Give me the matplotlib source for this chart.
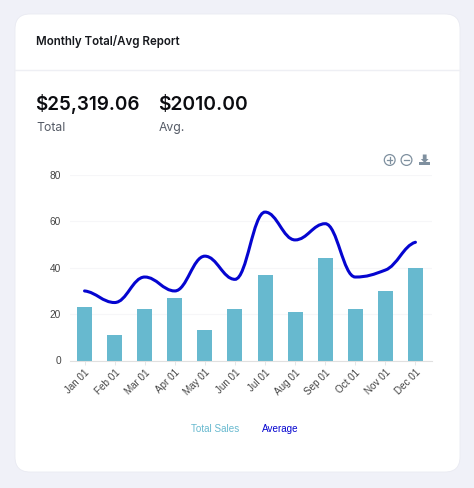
import numpy as np
import matplotlib
matplotlib.use("Agg")
import matplotlib.pyplot as plt
from matplotlib.patches import FancyBboxPatch, Circle, PathPatch, Polygon, Rectangle
from matplotlib.path import Path

months = ["Jan 01", "Feb 01", "Mar 01", "Apr 01", "May 01", "Jun 01",
          "Jul 01", "Aug 01", "Sep 01", "Oct 01", "Nov 01", "Dec 01"]
total_sales = [23, 11, 22, 27, 13, 22, 37, 21, 44, 22, 30, 40]
average = [30, 25, 36, 30, 45, 35, 64, 52, 59, 36, 39, 51]
y_ticks = [0, 20, 40, 60, 80]

W, H = 474, 488
fig = plt.figure(figsize=(W / 100, H / 100), dpi=100, facecolor="#f0f1f8")

# page layer in pixel coords, y going down
bg = fig.add_axes([0, 0, 1, 1])
bg.set_xlim(0, W)
bg.set_ylim(H, 0)
bg.axis("off")

card = FancyBboxPatch((15, 14), 445, 458, boxstyle="round,pad=0,rounding_size=15",
                      fc="white", ec="#e9eaf2", lw=0.6)
bg.add_patch(card)
bg.plot([15, 460], [69.5, 69.5], color="#eeeff4", lw=1)

bg.text(36, 45, "Monthly Total/Avg Report", fontsize=8.3, family="Inter",
        weight="semibold", color="#16181d", va="baseline")
bg.text(35.5, 110.5, "$25,319.06", fontsize=13.6, family="Inter", weight="semibold",
        color="#0b0c10", va="baseline")
bg.text(158.5, 110.5, "$2010.00", fontsize=13.9, family="Inter", weight="semibold",
        color="#0b0c10", va="baseline")
bg.text(36, 131, "Total", fontsize=8.8, family="Inter", color="#555b66", va="baseline")
bg.text(159, 131, "Avg.", fontsize=8.8, family="Inter", color="#555b66", va="baseline")

# toolbar icons
icon = "#7f909f"
for cx in (389.7, 406.5):
    bg.add_patch(Circle((cx, 160), 5.4, fc="none", ec=icon, lw=0.9))
    bg.plot([cx - 2.8, cx + 2.8], [160, 160], color=icon, lw=0.9)
bg.plot([389.7, 389.7], [157.2, 162.8], color=icon, lw=0.9)
bg.add_patch(Polygon([(420.8, 159), (422.8, 159), (422.8, 154.5), (426.6, 154.5),
                      (426.6, 159), (428.6, 159), (424.7, 163)], fc=icon, ec="none"))
bg.add_patch(Rectangle((419.3, 161.5), 10.8, 3.6, fc=icon, ec="none", zorder=1))

# chart
ax = fig.add_axes([69.5 / W, 1 - 360.5 / H, (432 - 69.5) / W, (360.5 - 175) / H])
ax.patch.set_alpha(0)
x = np.arange(len(months))
ax.bar(x, total_sales, width=0.5, color="#67b9cf", zorder=2)

# smooth line: hermite segments, flat at local extrema, as bezier path
ya = np.array(average, dtype=float)
slope = np.zeros(len(ya))
for i in range(1, len(ya) - 1):
    d0, d1 = ya[i] - ya[i - 1], ya[i + 1] - ya[i]
    if d0 * d1 > 0:
        slope[i] = 2 * d0 * d1 / (d0 + d1)
slope[0] = (ya[1] - ya[0]) * 0.3
slope[-1] = (ya[-1] - ya[-2]) * 0.3
handle = 0.4
verts = [(x[0], ya[0])]
codes = [Path.MOVETO]
for i in range(len(ya) - 1):
    verts += [(x[i] + handle, ya[i] + slope[i] * handle),
              (x[i + 1] - handle, ya[i + 1] - slope[i + 1] * handle),
              (x[i + 1], ya[i + 1])]
    codes += [Path.CURVE4] * 3
ax.add_patch(PathPatch(Path(verts, codes), fc="none", ec="#0505d0", lw=2.2,
                       capstyle="round", zorder=3))

ax.set_xlim(-0.5, 11.55)
ax.set_ylim(0, 80)
ax.set_yticks(y_ticks)
ax.set_xticks(x)
ax.set_xticklabels(months, rotation=45, ha="right", rotation_mode="anchor",
                   fontsize=7.1, family="Liberation Sans", color="#444444")
ax.tick_params(axis="y", length=0, pad=6, labelsize=7.3, labelcolor="#444444")
for lab in ax.get_yticklabels():
    lab.set_family("Liberation Sans")
ax.tick_params(axis="x", length=3, width=0.6, color="#e3e3e3", pad=2)
ax.grid(axis="y", color="#f6f6f8", lw=0.8, zorder=0)
for side in ("top", "right", "left"):
    ax.spines[side].set_visible(False)
ax.spines["bottom"].set_color("#e0e0e0")
ax.spines["bottom"].set_linewidth(0.8)

# legend
bg.text(215.5, 428.5, "Total Sales", fontsize=7.1, family="Liberation Sans", color="#67b9cf",
        ha="center", va="center")
bg.text(280, 428.5, "Average", fontsize=7.1, family="Liberation Sans", color="#0505d0",
        ha="center", va="center")

fig.savefig("out.png", dpi=100, facecolor=fig.get_facecolor())
